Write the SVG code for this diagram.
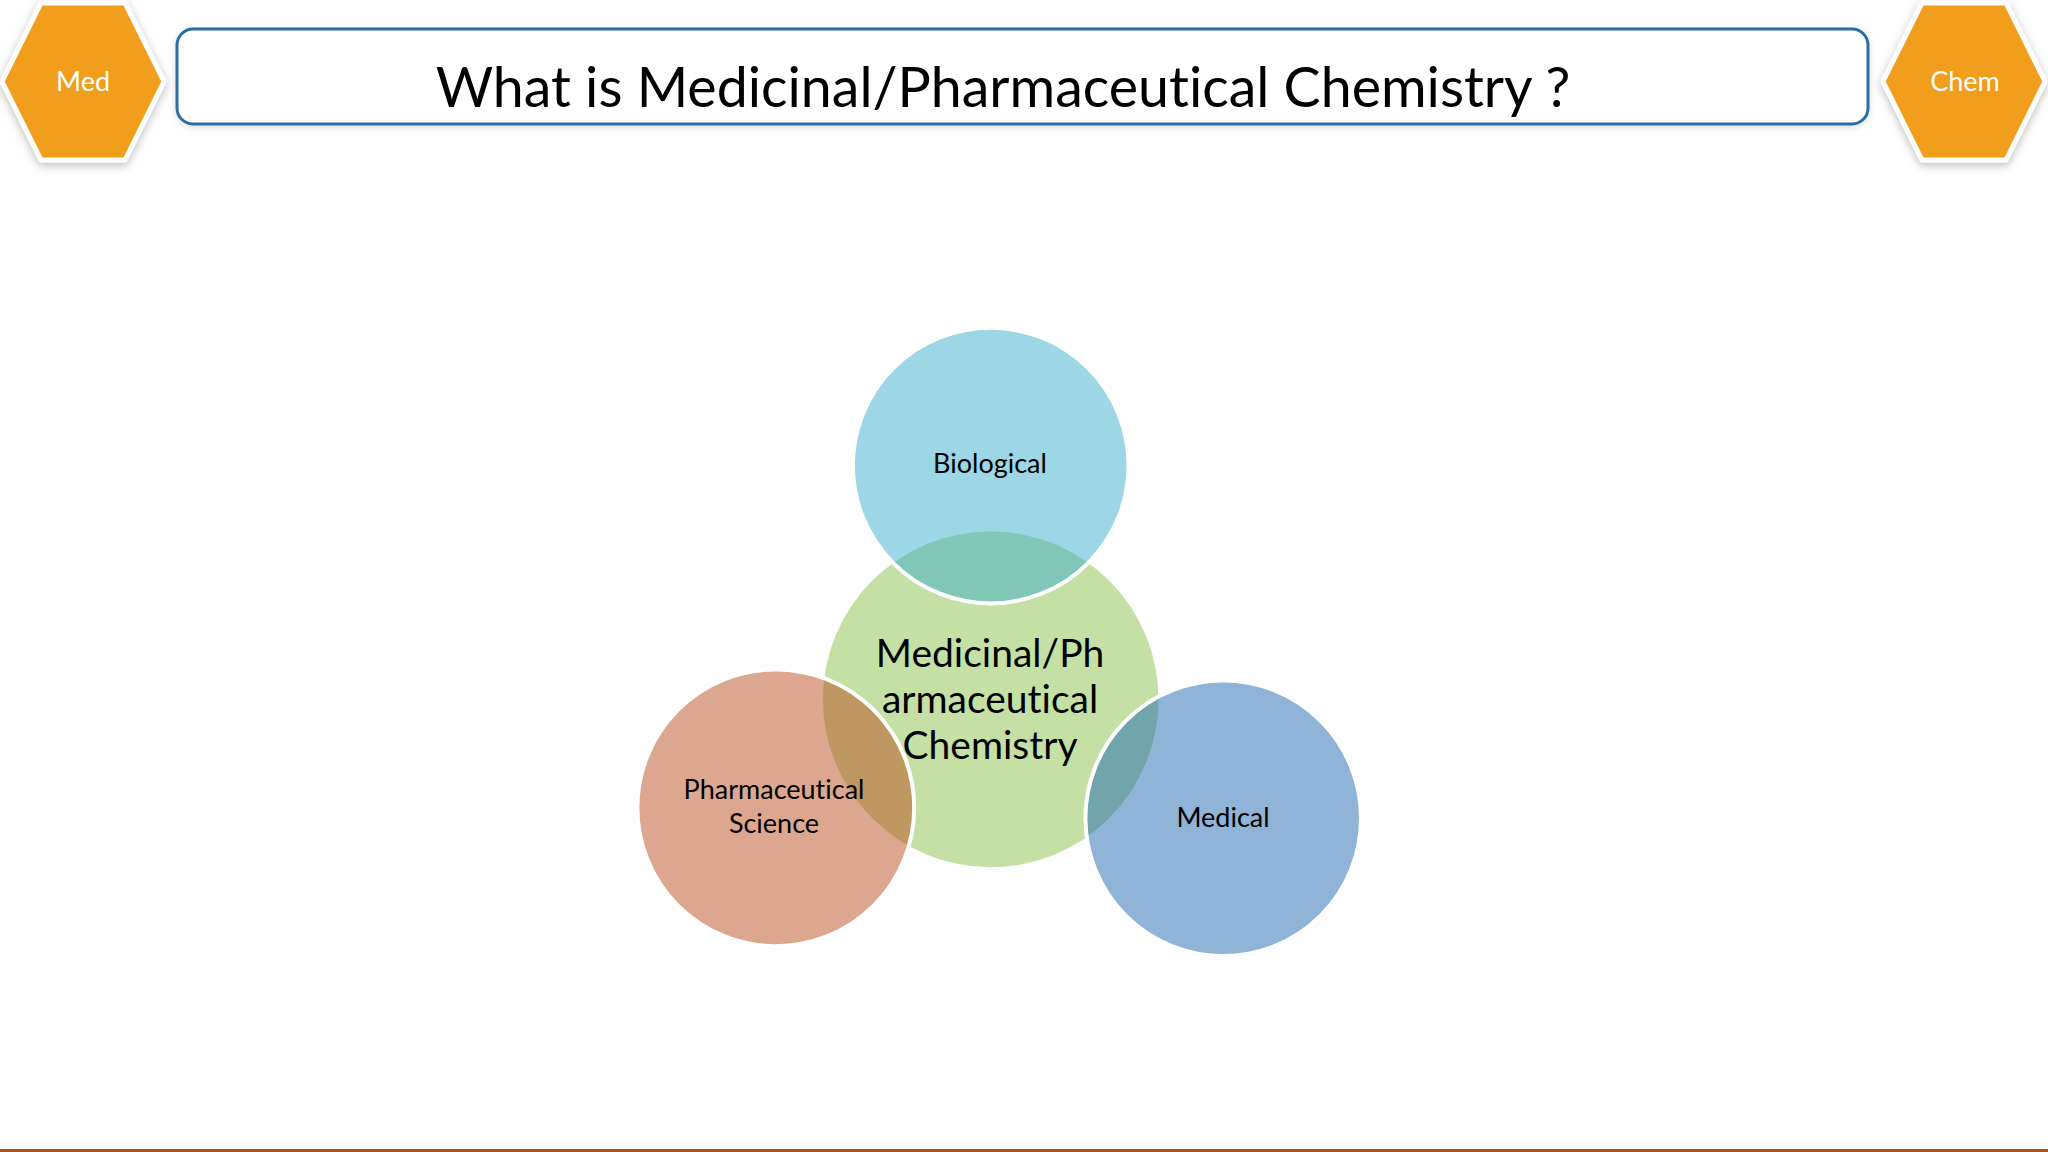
<svg xmlns="http://www.w3.org/2000/svg" width="2048" height="1152" viewBox="0 0 2048 1152">
  <defs>
    <filter id="shadow" x="-20%" y="-20%" width="140%" height="140%">
      <feDropShadow dx="0" dy="3" stdDeviation="4" flood-color="#000" flood-opacity="0.25"/>
    </filter>
    <filter id="soft" x="-5%" y="-20%" width="110%" height="140%">
      <feDropShadow dx="0" dy="2" stdDeviation="3" flood-color="#000" flood-opacity="0.12"/>
    </filter>
  </defs>
  <style>
    text { font-variant-ligatures: none; font-feature-settings: "liga" 0, "clig" 0; }
    .hex { fill: #f09e1e; stroke: #ffffff; stroke-width: 5; stroke-linejoin: round; }
    .hexText { font-family: Lato, "Open Sans", "Liberation Sans", sans-serif; font-size: 27px; fill: #ffffff; text-anchor: middle; }
    .title { font-family: Lato, "Open Sans", "Liberation Sans", sans-serif; font-size: 55.5px; fill: #000000; text-anchor: middle; }
    .outer { stroke: #ffffff; stroke-width: 4; fill-opacity: 0.5; }
    .label { font-family: Lato, "Open Sans", "Liberation Sans", sans-serif; font-size: 27px; fill: #000000; text-anchor: middle; }
    .center { font-family: Lato, "Open Sans", "Liberation Sans", sans-serif; font-size: 39px; fill: #000000; text-anchor: middle; }
  </style>
  <rect x="0" y="0" width="2048" height="1152" fill="#fefefe"/>

  <g id="hex-med">
    <polygon class="hex" filter="url(#shadow)" points="2,81.5 41,3 125,3 164,81.5 125,160 41,160"/>
    <text class="hexText" x="83" y="91">Med</text>
  </g>
  <g id="hex-chem">
    <polygon class="hex" filter="url(#shadow)" points="1883,81.5 1922,3 2006,3 2045,81.5 2006,160 1922,160"/>
    <text class="hexText" x="1965" y="91">Chem</text>
  </g>

  <g id="title">
    <rect x="177" y="29" width="1691" height="95" rx="16" ry="16" fill="#ffffff" stroke="#2a6ea8" stroke-width="3" filter="url(#soft)"/>
    <text class="title" x="1003" y="107">What is Medicinal/Pharmaceutical Chemistry ?</text>
  </g>

  <g id="center-node">
    <circle cx="990.7" cy="699.4" r="167.8" fill="#c5e0a5"/>
  </g>
  <g id="biological">
    <circle class="outer" cx="990.7" cy="465.6" r="137.8" fill="#3badc9"/>
  </g>
  <g id="pharmaceutical-science">
    <circle class="outer" cx="775.8" cy="807.8" r="138.4" fill="#b94f1d"/>
  </g>
  <g id="medical">
    <circle class="outer" cx="1223.2" cy="818.3" r="137.8" fill="#1f69b1"/>
  </g>

  <g id="labels">
    <text class="center" x="990" y="667">Medicinal/Ph</text>
    <text class="center" x="990" y="713">armaceutical</text>
    <text class="center" x="990" y="759">Chemistry</text>
    <text class="label" x="990" y="473">Biological</text>
    <text class="label" x="774" y="799">Pharmaceutical</text>
    <text class="label" x="774" y="833">Science</text>
    <text class="label" x="1223" y="827">Medical</text>
  </g>

  <g id="connectors"></g>

  <rect x="0" y="1149" width="2048" height="3" fill="#b5531f"/>
</svg>
